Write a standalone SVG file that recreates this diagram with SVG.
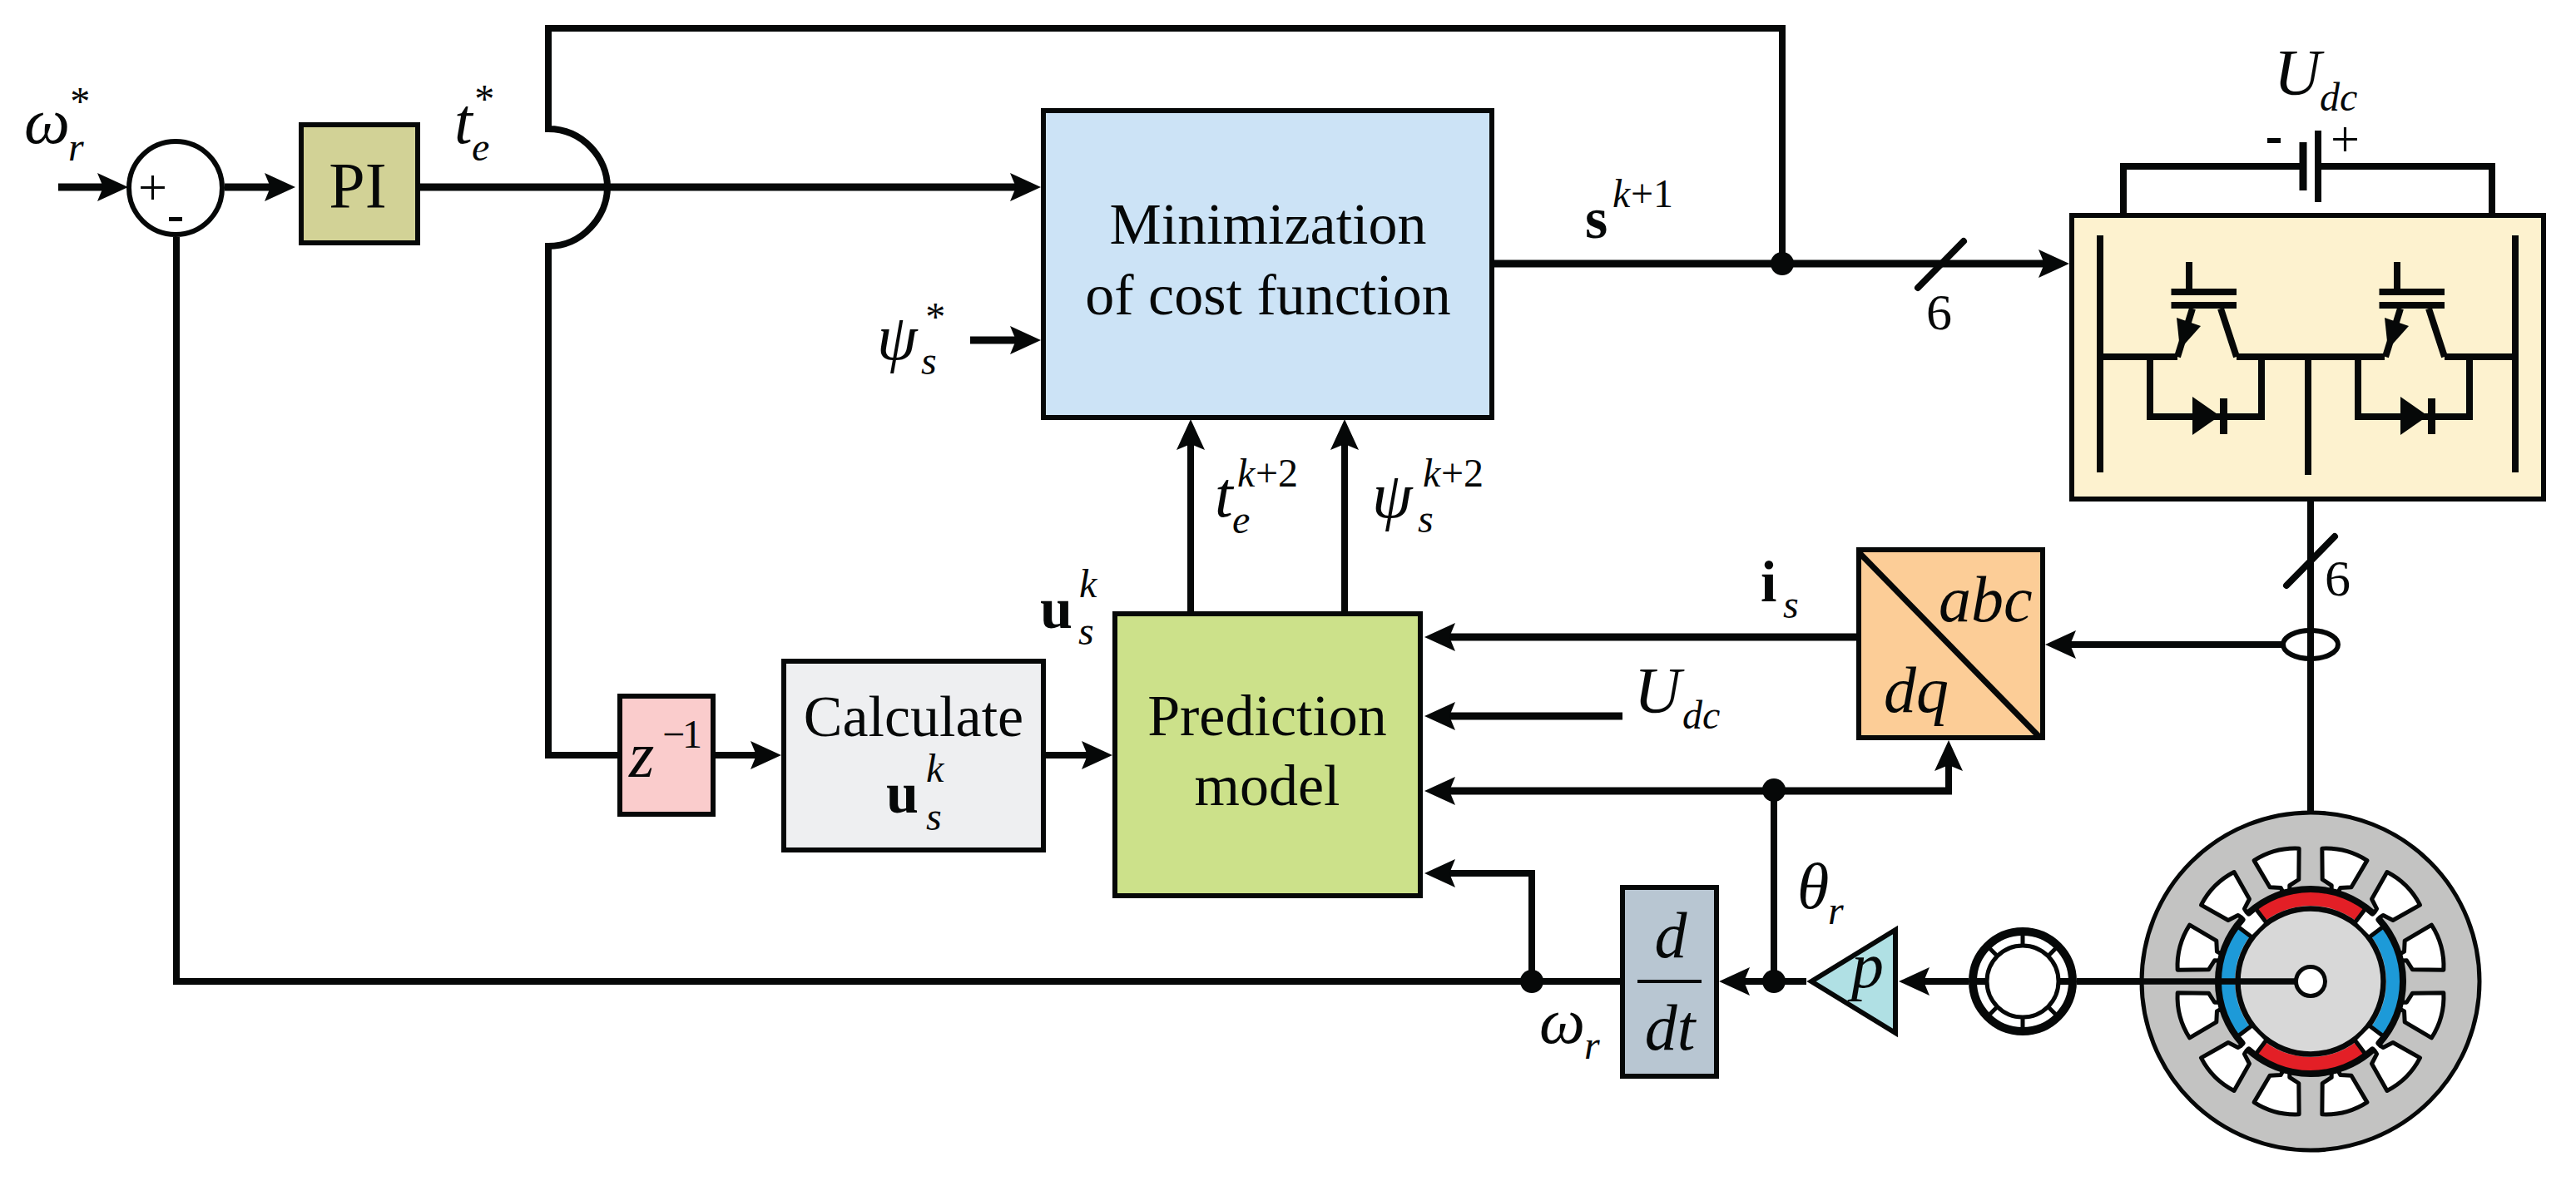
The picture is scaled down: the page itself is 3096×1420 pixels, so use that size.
<svg xmlns="http://www.w3.org/2000/svg" width="3096" height="1420" viewBox="0 0 3096 1420">
<style>
text{font-family:"Liberation Serif","Times New Roman",serif;fill:#060808}
.r70{font-size:70px}.r78{font-size:78px}.r48{font-size:48px}.r62{font-size:62px}
.i78{font-size:78px;font-style:italic}.i48{font-size:48px;font-style:italic}
.b70{font-size:70px;font-weight:bold}
.m{text-anchor:middle}
.box{stroke:#060808;stroke-width:6}
.w{fill:none;stroke:#060808;stroke-width:8}
.h{stroke-width:9}
.a{marker-end:url(#ah)}
.k{fill:#060808}
</style>
<defs>
<marker id="ah" markerUnits="userSpaceOnUse" markerWidth="38" markerHeight="36" viewBox="0 -18 38 36" refX="15" refY="0" orient="auto"><path d="M0,-17L37,0L0,17L7,0Z" fill="#060808"/></marker>
<path id="slot" d="M-28,-158Q0,-167 28,-158L18,-122L5.5,-118L4,-112L-4,-112L-5.5,-118L-18,-122Z" fill="#fff" stroke="#060808" stroke-width="5" stroke-linejoin="round"/>
<path id="mag" d="M-65,-86.25A108,108 0 0 1 65,-86.25L54.8,-72.7A91,91 0 0 0 -54.8,-72.7Z"/>
<g id="gap"><path d="M54.2,-71.9L65.6,-87A109,109 0 0 1 87,-65.6L71.9,-54.2Z" fill="#fff"/><path d="M53.5,-71L66,-87.5M71,-53.5L87.5,-66" stroke="#060808" stroke-width="5" fill="none"/></g>
<path id="barc" d="M-74.3,-82.5A111,111 0 0 1 74.3,-82.5" fill="none" stroke="#060808" stroke-width="8" stroke-linecap="round"/>
<g id="igbt">
<path d="M2631,315V347M2609.5,351H2688M2609.5,367H2688" stroke="#060808" stroke-width="8" fill="none"/>
<path d="M2617,429L2635,371M2669,371L2688,429" stroke="#060808" stroke-width="8" fill="none"/>
<path d="M2616,382L2645,392L2620,420Z" fill="#060808"/>
<path d="M2584,429V501H2718V429" stroke="#060808" stroke-width="8" fill="none"/>
<path d="M2635,477L2668,500L2635,523Z" fill="#060808"/>
<path d="M2672.5,479V522" stroke="#060808" stroke-width="9"/>
</g>
</defs>
<rect width="3096" height="1420" fill="#fff"/>

<g id="connectors">
<path class="w h a" d="M70,225H132"/>
<path class="w h a" d="M270,225H333"/>
<path class="w h a" d="M505,225H1229"/>
<path class="w h a" d="M1166,409H1229"/>
<path class="w h a" d="M1796,317H2465"/>
<path class="w" d="M2142,317V34H659V155C700,155 730,190 730,225C730,260 700,296 659,296V908H745"/>
<path class="w a" d="M860,908H917"/>
<path class="w a" d="M1257,908H1315"/>
<path class="w a" d="M1431,735V526"/>
<path class="w a" d="M1616,735V526"/>
<path class="w h a" d="M2231,766H1734"/>
<path class="w h a" d="M1950,861H1734"/>
<path class="w h a" d="M2346,951H1734"/>
<path class="w a" d="M2342,955V912"/>
<path class="w" d="M2132,950V1180"/>
<path class="w a" d="M1841,1180V1050H1734"/>
<path class="w" d="M1947,1180H212V285"/>
<path class="w a" d="M2171,1180H2088"/>
<path class="w a" d="M2366,1180H2304"/>
<path class="w" d="M2496,1180H2590"/>
<path class="w a" d="M2744,775H2480"/>
<path class="w" d="M2777,602V976"/>
<path class="w" d="M2552,258V200H2768M2786,200H2995V258"/>
<path class="w" stroke-linecap="round" d="M2305,346L2360,290"/>
<path class="w" stroke-linecap="round" d="M2748,704L2806,645"/>
<circle class="k" cx="2142" cy="317" r="14"/>
<circle class="k" cx="2132" cy="950" r="14"/>
<circle class="k" cx="1841" cy="1180" r="14"/>
<circle class="k" cx="2132" cy="1180" r="14"/>
</g>

<g id="sum">
<circle cx="211" cy="226" r="56" fill="#fff" stroke="#060808" stroke-width="6"/>
<text class="r62" x="166" y="246">+</text>
<rect x="203" y="261" width="16" height="5" class="k"/>
</g>
<g id="pi">
<rect class="box" x="362" y="150" width="140" height="142" fill="#d2d296"/>
<text class="r78 m" x="430" y="249">PI</text>
</g>
<g id="cost">
<rect class="box" x="1254" y="133" width="539" height="369" fill="#cce3f6"/>
<text class="r70 m" x="1524" y="293">Minimization</text>
<text class="r70 m" x="1524" y="378">of cost function</text>
</g>
<g id="delay">
<rect class="box" x="745" y="837" width="112" height="142" fill="#facccc"/>
<text class="i78" x="756" y="934">z</text>
<text class="r48" x="796" y="899" letter-spacing="-3">−1</text>
</g>
<g id="calc">
<rect class="box" x="942" y="795" width="312" height="227" fill="#eeeff1"/>
<text class="r70 m" x="1098" y="885">Calculate</text>
<text class="b70" x="1065" y="977">u</text>
<text class="i48" x="1113" y="940">k</text>
<text class="i48" x="1113" y="998">s</text>
</g>
<g id="pred">
<rect class="box" x="1340" y="738" width="367" height="339" fill="#cce18a"/>
<text class="r70 m" x="1523" y="884">Prediction</text>
<text class="r70 m" x="1523" y="968">model</text>
</g>
<g id="abcdq">
<rect class="box" x="2234" y="661" width="221" height="226" fill="#fccd97"/>
<path d="M2234,664L2452,887" stroke="#060808" stroke-width="7"/>
<text class="i78" x="2330" y="747">abc</text>
<text class="i78" x="2264" y="856">dq</text>
</g>
<g id="ddt">
<rect class="box" x="1950" y="1067" width="113" height="227" fill="#b8c6d2"/>
<path d="M1968,1180H2045" stroke="#060808" stroke-width="4"/>
<text class="i78 m" x="2008" y="1151">d</text>
<text class="i78 m" x="2007" y="1262">dt</text>
</g>
<g id="gain">
<path d="M2177,1180L2278,1118V1242Z" fill="#b0e0e4" stroke="#060808" stroke-width="6"/>
<text class="i78" x="2225" y="1187">p</text>
</g>
<g id="inverter">
<rect class="box" x="2490" y="259" width="567" height="341" fill="#fdf2cf"/>
<path d="M2524,283V568M3023,283V568M2774,429V571M2524,429H2617M2688,429H2866M2938,429H3023" stroke="#060808" stroke-width="8" fill="none"/>
<use href="#igbt"/>
<use href="#igbt" x="250"/>
</g>
<g id="battery">
<path d="M2768,171V229" stroke="#060808" stroke-width="9"/>
<path d="M2786,157V243" stroke="#060808" stroke-width="8"/>
<rect x="2725" y="166" width="16" height="6" class="k"/>
<text class="r62" x="2801" y="188">+</text>
</g>
<g id="sensor">
<ellipse cx="2777" cy="775" rx="33" ry="17" fill="none" stroke="#060808" stroke-width="6"/>
</g>
<g id="encoder">
<circle cx="2431" cy="1180" r="60" fill="#fff" stroke="#060808" stroke-width="10"/>
<path d="M2431,1120V1240M2371,1180H2491M2389,1138L2473,1222M2473,1138L2389,1222" stroke="#060808" stroke-width="5"/>
<path d="M2371,1180H2391M2471,1180H2491" stroke="#060808" stroke-width="8"/>
<circle cx="2431" cy="1180" r="43" fill="#fff" stroke="#060808" stroke-width="5"/>
</g>
<g id="motor" transform="translate(2777,1180)">
<circle r="203" fill="#c3c3c2" stroke="#060808" stroke-width="5"/>
<use href="#slot" transform="rotate(15)"/><use href="#slot" transform="rotate(45)"/><use href="#slot" transform="rotate(75)"/><use href="#slot" transform="rotate(105)"/><use href="#slot" transform="rotate(135)"/><use href="#slot" transform="rotate(165)"/><use href="#slot" transform="rotate(195)"/><use href="#slot" transform="rotate(225)"/><use href="#slot" transform="rotate(255)"/><use href="#slot" transform="rotate(285)"/><use href="#slot" transform="rotate(315)"/><use href="#slot" transform="rotate(345)"/>
<use href="#mag" fill="#e31f26"/><use href="#mag" fill="#e31f26" transform="rotate(180)"/><use href="#mag" fill="#1d9ad8" transform="rotate(90)"/><use href="#mag" fill="#1d9ad8" transform="rotate(270)"/>
<circle r="87.5" fill="#d8d8d8" stroke="#060808" stroke-width="6.5"/>
<use href="#gap"/><use href="#gap" transform="rotate(90)"/><use href="#gap" transform="rotate(180)"/><use href="#gap" transform="rotate(270)"/>
<use href="#barc"/><use href="#barc" transform="rotate(90)"/><use href="#barc" transform="rotate(180)"/><use href="#barc" transform="rotate(270)"/>
<g fill="#fff"><rect x="-2" y="-120" width="4" height="14" transform="rotate(45)"/><rect x="-2" y="-120" width="4" height="14" transform="rotate(135)"/><rect x="-2" y="-120" width="4" height="14" transform="rotate(225)"/><rect x="-2" y="-120" width="4" height="14" transform="rotate(315)"/></g>
<path d="M-280,0H-18" stroke="#060808" stroke-width="7.5"/>
<circle r="17.5" fill="#fff" stroke="#060808" stroke-width="5"/>
</g>

<g id="labels">
<text class="i78" x="29" y="172">ω</text><text class="i48" x="82" y="138">*</text><text class="i48" x="82" y="193">r</text>
<text class="i78" x="546" y="172">t</text><text class="i48" x="568" y="135">*</text><text class="i48" x="567" y="193">e</text>
<text class="i78" x="1054" y="432">ψ</text><text class="i48" x="1110" y="397">*</text><text class="i48" x="1107" y="450">s</text>
<text class="b70" x="1905" y="286">s</text><text class="i48" x="1938" y="249">k</text><text class="r48" x="1960" y="249">+1</text>
<text class="i78" x="2733" y="113">U</text><text class="i48" x="2788" y="133">dc</text>
<text class="r62" x="2315" y="396">6</text>
<text class="r62" x="2794" y="716">6</text>
<text class="i78" x="1460" y="621">t</text><text class="i48" x="1487" y="585">k</text><text class="r48" x="1509" y="585">+2</text><text class="i48" x="1481" y="641">e</text>
<text class="i78" x="1649" y="622">ψ</text><text class="i48" x="1710" y="585">k</text><text class="r48" x="1732" y="585">+2</text><text class="i48" x="1704" y="640">s</text>
<text class="b70" x="1250" y="755">u</text><text class="i48" x="1297" y="718">k</text><text class="i48" x="1296" y="775">s</text>
<text class="b70" x="2116" y="723">i</text><text class="i48" x="2143" y="743">s</text>
<text class="i78" x="1964" y="856">U</text><text class="i48" x="2022" y="876">dc</text>
<text class="i78" x="2160" y="1092">θ</text><text class="i48" x="2197" y="1111">r</text>
<text class="i78" x="1850" y="1254">ω</text><text class="i48" x="1904" y="1273">r</text>
</g>
</svg>
